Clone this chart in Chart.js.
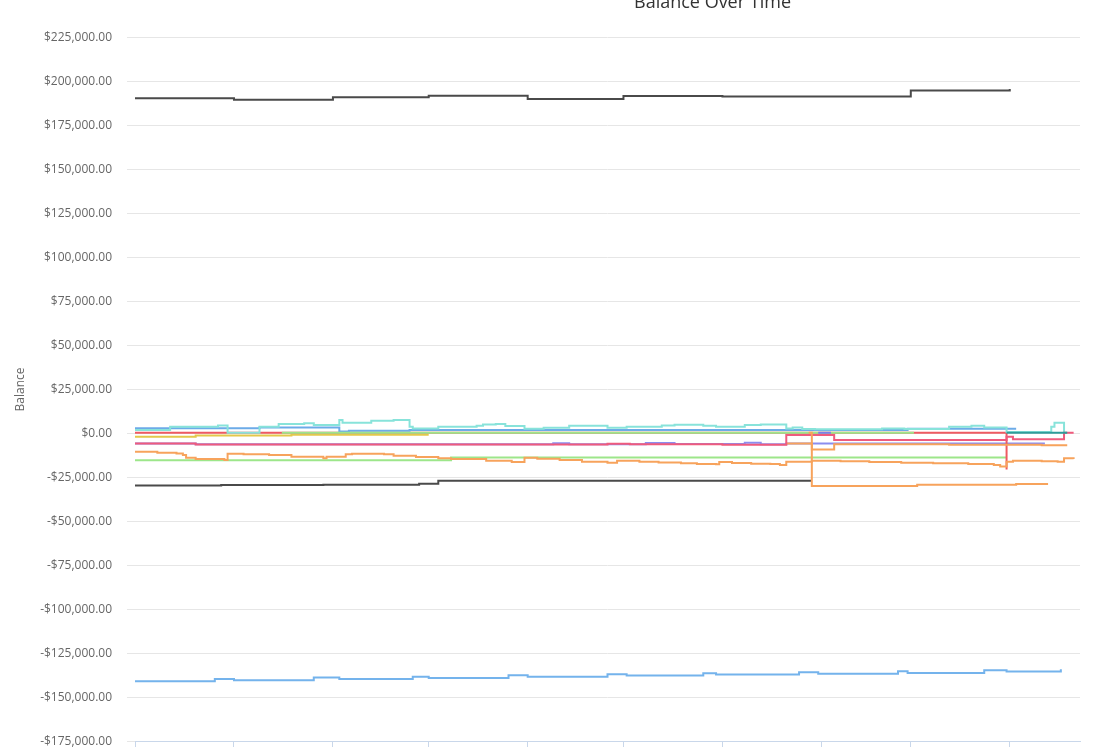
<!DOCTYPE html>
<html>
<head>
<meta charset="utf-8">
<title>Balance Over Time</title>
<script src="https://cdn.jsdelivr.net/npm/chart.js@4.4.1/dist/chart.umd.min.js"></script>
<style>
    html, body { margin: 0; padding: 0; background: #fff; overflow: hidden; }
    .content { position: absolute; left: 0; top: -18px; width: 1416px; height: 810px; }
</style>
</head>
<body>
<div class="content"><canvas id="myChart"></canvas></div>
<script>
// x values are days counted from 1 Jul 2022
const tickDays = [0, 31, 62, 92, 123, 153, 184, 215, 243, 274];
const tickLabels = ['Jul 2022', 'Aug 2022', 'Sep 2022', 'Oct 2022', 'Nov 2022', 'Dec 2022', 'Jan 2023', 'Feb 2023', 'Mar 2023', 'Apr 2023'];

// Számlák adatai (nap, egyenleg)
const newCheckingDays = [273, 292];
const newCheckingValues = [400, 400];

const transferDays = [214, 218];
const transferValues = [400, 400];

const autoRefiDays = [211, 212, 245, 276, 286];
const autoRefiValues = [400, -29900, -29200, -28800, -28800];

const visaDays = [0, 19, 148, 155, 184, 204, 219, 273, 275, 291, 294];
const visaValues = [-5700, -6300, -5900, -6200, -6500, -900, -3800, -1900, -3400, 400, 400];

const storeCardDays = [204, 212, 219, 255, 284, 292];
const storeCardValues = [-5700, -9100, -6200, -6400, -6800, -6800];

const creditCardDays = [0, 7, 13, 15, 16, 19, 28, 29, 34, 42, 49, 59, 60, 66, 68, 78, 81, 88, 95, 99,
    110, 118, 122, 126, 133, 140, 148, 151, 158, 164, 171, 176, 182, 183, 187, 193, 199, 202, 204, 212,
    221, 230, 240, 250, 261, 269, 271, 273, 275, 284, 289, 291, 294];
const creditCardValues = [-10400, -11000, -11400, -12300, -13800, -14600, -15200, -11600, -11900, -12300,
    -13300, -14200, -13300, -11900, -11600, -11900, -12700, -13400, -14200, -14600,
    -15500, -16300, -13800, -14400, -15100, -16100, -16700, -15500, -16100, -16500,
    -17000, -17400, -17600, -16300, -16900, -17200, -17400, -18000, -16100, -15500,
    -15900, -16300, -16700, -17000, -17400, -18000, -18900, -16100, -15500, -15900,
    -16100, -14200, -14600];

const moneyMarketDays = [46, 244];
const moneyMarketValues = [400, 400];

const savingsDays = [0, 11, 26, 29, 39, 45, 53, 56, 64, 65, 74, 81, 86, 87, 95, 107, 109, 113, 116, 122,
    128, 136, 148, 154, 165, 169, 178, 182, 191, 196, 204, 206, 209, 213, 234, 241, 255, 262, 266, 273,
    287, 288, 291, 292];
const savingsValues = [1900, 3800, 4500, 400, 3800, 5300, 5700, 4700, 7600, 6100,
    7200, 7600, 3800, 2800, 3800, 4400, 5100, 5300, 4200, 2700,
    3200, 4400, 3200, 3800, 4500, 4900, 4400, 3800, 4700, 5100,
    2800, 3400, 2500, 2300, 2800, 2500, 3800, 4400, 3400, 800,
    3800, 6100, 400, 400];

const checkingDays = [0, 39, 64, 67, 86, 242, 276];
const checkingValues = [2900, 3400, 1000, 1500, 1900, 2700, 2700];

const lineOfCreditDays = [0, 273];
const lineOfCreditValues = [400, -20500];

const amexDays = [0, 19, 131, 136, 160, 169, 191, 196, 204, 285];
const amexValues = [-5800, -6200, -5600, -6200, -5500, -6100, -5400, -6200, -5700, -5700];

const overdraftDays = [0, 19, 49, 92];
const overdraftValues = [-1900, -1200, -800, -800];

const studentLoanDays = [0, 99, 273];
const studentLoanValues = [-15300, -13700, -13700];

const brokerageDays = [0, 31, 62, 92, 123, 153, 184, 243, 274];
const brokerageValues = [190500, 189600, 191100, 192000, 190100, 191800, 191500, 194900, 195800];

const autoLoanDays = [0, 27, 59, 89, 95, 212];
const autoLoanValues = [-29700, -29400, -29200, -28600, -27000, -27000];

const mortgageDays = [0, 25, 31, 56, 64, 87, 92, 117, 123, 148, 154, 178, 182, 208, 214, 239, 242, 266, 273, 290];
const mortgageValues = [-140900, -139600, -140300, -138800, -139600, -138300, -139000, -137500, -138300, -136900,
    -137700, -136400, -137100, -135800, -136600, -135200, -136200, -134700, -135400, -134100];

// első elem kerül legfelülre
const accounts = [
    ['New Checking', newCheckingDays, newCheckingValues],
    ['Transfer', transferDays, transferValues],
    ['Auto Loan (Refi)', autoRefiDays, autoRefiValues],
    ['Visa', visaDays, visaValues],
    ['Store Card', storeCardDays, storeCardValues],
    ['Credit Card', creditCardDays, creditCardValues],
    ['Money Market', moneyMarketDays, moneyMarketValues],
    ['Savings', savingsDays, savingsValues],
    ['Checking', checkingDays, checkingValues],
    ['Line of Credit', lineOfCreditDays, lineOfCreditValues],
    ['Amex', amexDays, amexValues],
    ['Overdraft', overdraftDays, overdraftValues],
    ['Student Loan', studentLoanDays, studentLoanValues],
    ['Brokerage', brokerageDays, brokerageValues],
    ['Auto Loan', autoLoanDays, autoLoanValues],
    ['Mortgage', mortgageDays, mortgageValues],
];
const colors = ['#2f9c9a', '#7d7ee8', '#f7a35c', '#ef5b7d', '#f7a35c', '#f7a35c', '#9de68a', '#88e3da',
    '#6cabe8', '#ee5a62', '#8b8def', '#e3c84b', '#9de68a', '#4a4a4a', '#4a4a4a', '#74b3ec'];

const money = new Intl.NumberFormat('en-US', { style: 'currency', currency: 'USD' });

Chart.defaults.font.family = "'Open Sans', sans-serif";
Chart.defaults.font.size = 12;
Chart.defaults.color = '#666';

const datasets = accounts.map(([name, days, values], i) => ({
    label: name,
    data: days.map((d, j) => ({ x: d, y: values[j] })),
    borderColor: colors[i],
    backgroundColor: colors[i],
    borderWidth: 2,
    pointRadius: 0,
    stepped: true,
    fill: false
}));

new Chart(document.getElementById('myChart'), {
    type: 'line',
    data: { datasets },
    options: {
        responsive: true,
        maintainAspectRatio: false,
        animation: false,
        layout: { padding: { left: 9 } },
        plugins: {
            legend: { display: false },
            tooltip: { enabled: false },
            title: {
                display: true,
                text: 'Balance Over Time',
                color: '#333',
                font: { size: 18, weight: 'normal' },
                padding: { top: 10, bottom: 24 }
            }
        },
        scales: {
            x: {
                type: 'linear',
                min: 0,
                max: 296,
                afterBuildTicks: axis => { axis.ticks = tickDays.map(v => ({ value: v })); },
                ticks: {
                    autoSkip: false,
                    maxRotation: 0,
                    callback: value => tickLabels[tickDays.indexOf(value)]
                },
                grid: { drawOnChartArea: false, color: '#c9d7ea' },
                border: { color: '#c9d7ea' },
                title: { display: true, text: 'Date' }
            },
            y: {
                min: -175000,
                max: 225000,
                afterFit: axis => { axis.width = 126; },
                ticks: {
                    stepSize: 25000,
                    padding: 15,
                    callback: value => money.format(value)
                },
                grid: { color: '#e6e6e6' },
                border: { display: false },
                title: { display: true, text: 'Balance' }
            },
            // üres hely jobb oldalon (a vászon szélesebb az ablaknál)
            spacer: {
                type: 'linear',
                position: 'right',
                afterFit: axis => { axis.width = 336; },
                ticks: { display: false },
                grid: { display: false },
                border: { display: false }
            }
        }
    }
});
</script>
</body>
</html>
